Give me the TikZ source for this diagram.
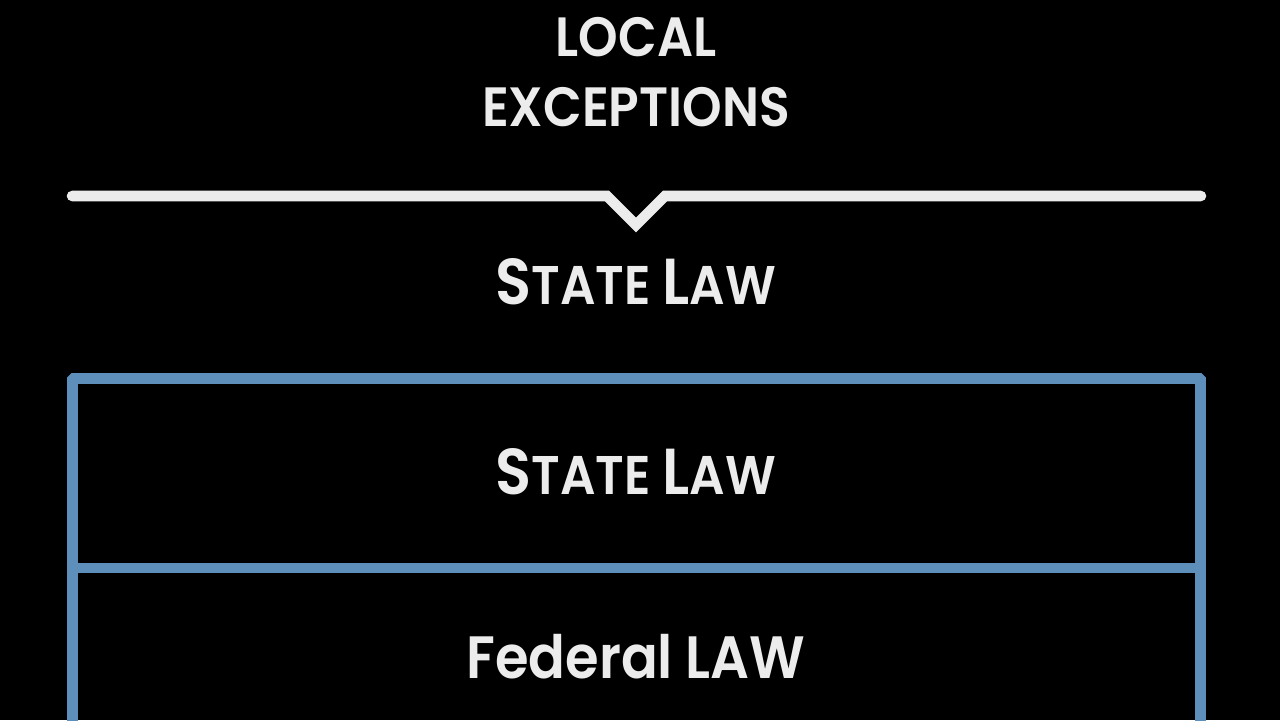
\documentclass[tikz,border=0pt]{standalone}
\usepackage{fontspec}
\setmainfont{Poppins}[UprightFont=* SemiBold, FakeStretch=0.91]
\usetikzlibrary{calc}
\definecolor{lawblue}{RGB}{94,143,186}
\definecolor{lineWhite}{RGB}{236,236,236}
\def\scword#1#2{{\fontsize{37}{42}\selectfont #1}{\fontsize{31}{36}\selectfont #2}}

\begin{document}
\begin{tikzpicture}[x=0.02cm, y=-0.02cm]
			%%%%% START %%%%%
			
			\fill[black] (0, 0) rectangle (1280, 720);
			\useasboundingbox (0, 0) rectangle (1280, 720);
			
			\node[text=lineWhite, font=\fontsize{31.5}{36}\selectfont] (local) at (636, 37) {LOCAL};
			\node[text=lineWhite, font=\fontsize{31.5}{36}\selectfont] (exceptions) at (636, 107) {EXCEPTIONS};
			
			\draw[line width=6pt, color=lineWhite, line cap=round, line join=miter] (72, 196) -- (607, 196) -- (636, 225) -- (665, 196) -- (1201, 196);
			
			\node[text=lineWhite, font=\fontsize{31}{36}\selectfont] (stateTop) at (636, 282) {\scword{S}{TATE} \scword{L}{AW}};
			
			\draw[line width=6.2pt, color=lawblue, rounded corners=0.8pt] (72.5, 760) -- (72.5, 378.5) -- (1200.5, 378.5) -- (1200.5, 760);
			\draw[line width=6.2pt, color=lawblue] (72.5, 568) -- (1200.5, 568);
			
			\node[text=lineWhite, font=\fontsize{31}{36}\selectfont] (stateBox) at (636, 472) {\scword{S}{TATE} \scword{L}{AW}};
			\node[text=lineWhite, font=\fontsize{34}{40}\selectfont] (federal) at (636, 657) {Federal LAW};
			
			%%%%% END %%%%%
\end{tikzpicture}
\end{document}
